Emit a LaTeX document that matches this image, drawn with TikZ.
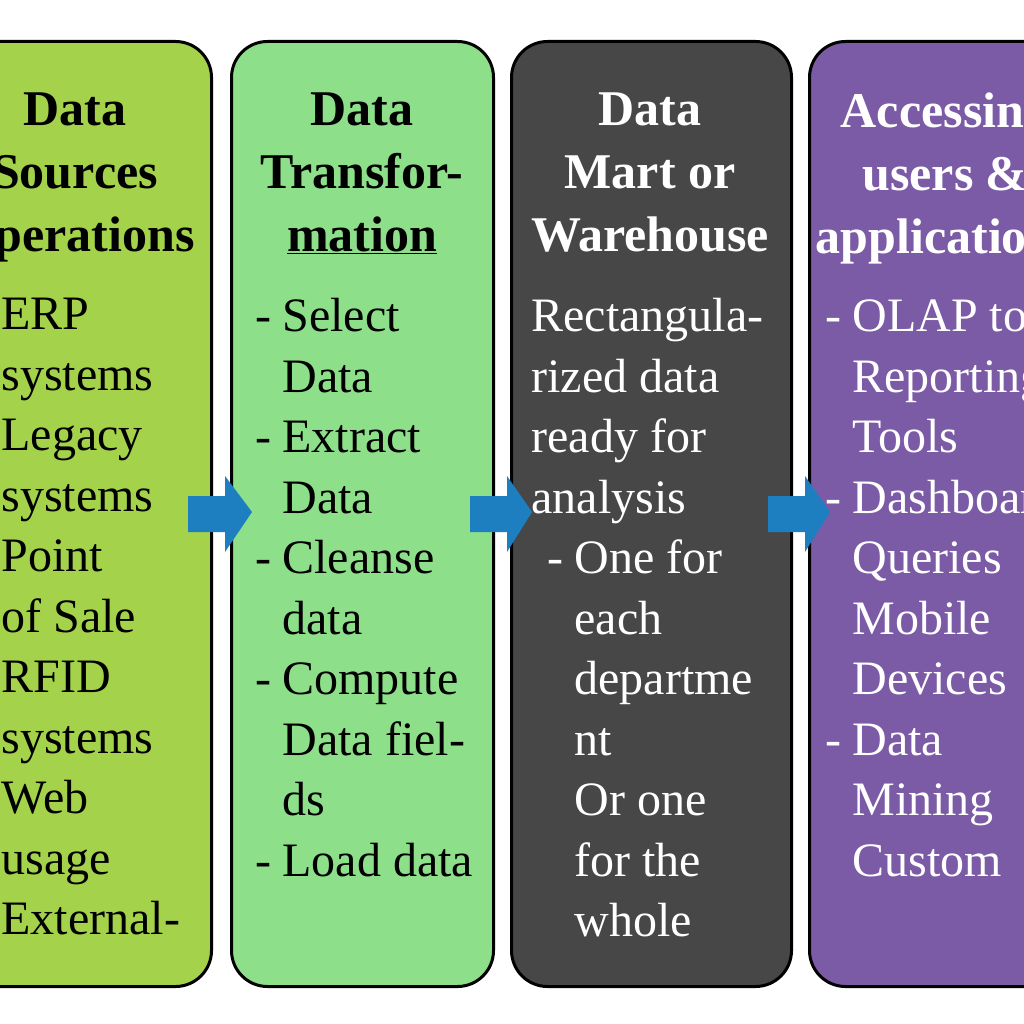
\documentclass[tikz,border=0pt]{standalone}
\usepackage{fontspec}
\setmainfont{Liberation Serif}
\usetikzlibrary{calc,positioning}
\definecolor{srcGreen}{HTML}{A4D24A}
\definecolor{trnGreen}{HTML}{8EDF8A}
\definecolor{martGrey}{HTML}{474747}
\definecolor{accPurple}{HTML}{7B5BA6}
\definecolor{flowBlue}{HTML}{1E7FC0}
\newcommand{\itm}[1]{\makebox[27pt][l]{-}#1}
\newcommand{\cnt}[1]{\hspace*{27pt}#1}
\tikzset{
  stage/.style={%
    draw=black, line width=3pt, rounded corners=36pt,
    minimum height=945pt, anchor=north west
  },
  head/.style={%
    anchor=north, align=center, font=\bfseries\fontsize{50}{63}\selectfont
  },
  body/.style={%
    anchor=north west, align=left, font=\fontsize{48}{60.5}\selectfont
  },
  flow/.style={%
    fill=flowBlue, draw=none
  }
}
\begin{document}
\begin{tikzpicture}[x=1pt,y=-1pt]
\useasboundingbox[fill=white] (0,0) rectangle (1024,1024);
\clip (0,0) rectangle (1024,1024);

% The four stages, left to right.
\node[stage, fill=srcGreen, minimum width=270pt] (src) at (-60,40) {};
\node[stage, fill=trnGreen, minimum width=262pt] (trn) at (230,40) {};
\node[stage, fill=martGrey, minimum width=280pt] (mart) at (510,40) {};
\node[stage, fill=accPurple, minimum width=280pt] (acc) at (808,40) {};

% Headings.
\node[head] (srcHead) at (75,89) {Data\\Sources\\Operations};
\node[head] (trnHead) at (362,89) {Data\\Transfor-\\\underline{mation}};
\node[head, text=white] (martHead) at (650,89) {Data\\Mart or\\Warehouse};
\node[head, text=white] (accHead) at (945,89) {Accessing\\users \&\\applications};

% Item lists.
\node[body] (srcList) at (-29,295) {\itm{ERP}\\\cnt{systems}\\\itm{Legacy}\\\cnt{systems}\\\itm{Point}\\\cnt{of Sale}\\\itm{RFID}\\\cnt{systems}\\\itm{Web}\\\cnt{usage}\\\itm{External-}};
\node[body] (trnList) at (252,295) {\itm{Select}\\\cnt{Data}\\\itm{Extract}\\\cnt{Data}\\\itm{Cleanse}\\\cnt{data}\\\itm{Compute}\\\cnt{Data fiel-}\\\cnt{ds}\\\itm{Load data}};
\node[body, text=white] (martList) at (528,295) {Rectangula-\\rized data\\ready for\\analysis\\\hspace*{16pt}\itm{One for}\\\hspace*{16pt}\cnt{each}\\\hspace*{16pt}\cnt{departme}\\\hspace*{16pt}\cnt{nt}\\\hspace*{16pt}\cnt{Or one}\\\hspace*{16pt}\cnt{for the}\\\hspace*{16pt}\cnt{whole}};
\node[body, text=white] (accList) at (822,295) {\itm{OLAP tools}\\\cnt{Reporting}\\\cnt{Tools}\\\itm{Dashboards}\\\cnt{Queries}\\\cnt{Mobile}\\\cnt{Devices}\\\itm{Data}\\\cnt{Mining}\\\cnt{Custom}};

% Block arrows between the stages.
\foreach \a/\b in {src/trn,trn/mart,mart/acc}{
  \fill[flow] ($(\a.east)+(-25,-18)$) -- ($(\a.east)+(12,-18)$)
    -- ($(\a.east)+(12,-38)$) -- ($(\b.west)+(22,-2)$)
    -- ($(\a.east)+(12,38)$) -- ($(\a.east)+(12,18)$)
    -- ($(\a.east)+(-25,18)$) -- cycle;
}
\end{tikzpicture}
\end{document}
